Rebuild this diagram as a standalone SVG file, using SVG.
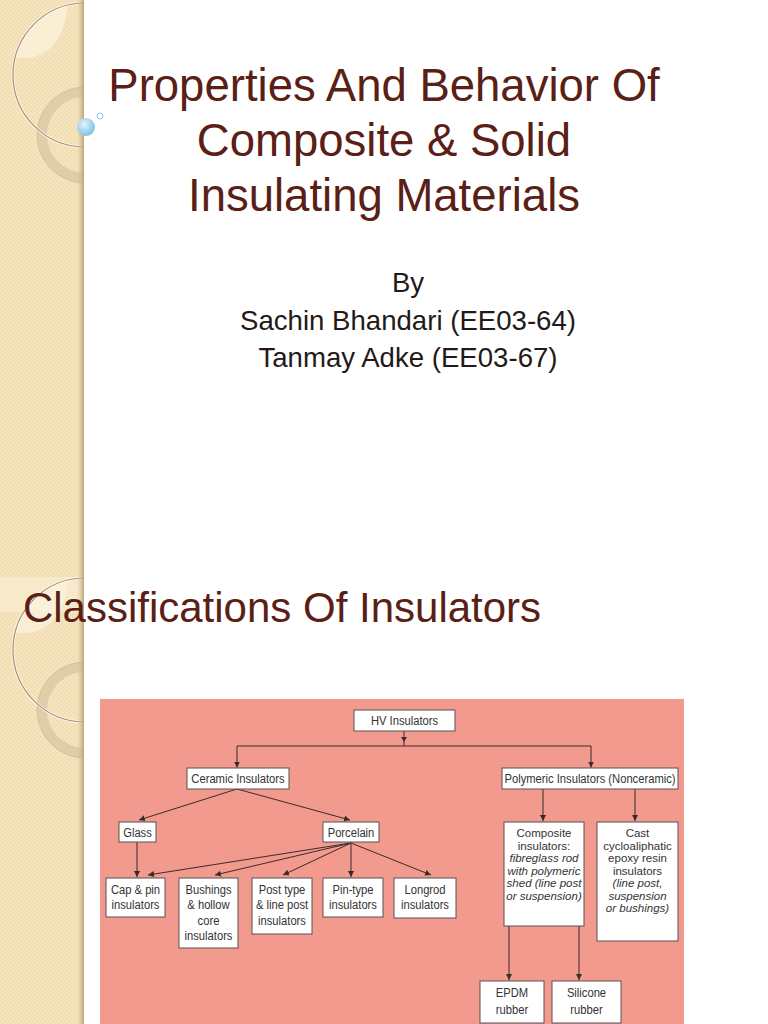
<svg xmlns="http://www.w3.org/2000/svg" width="768" height="1024" viewBox="0 0 768 1024">
<defs>
<pattern id="dots" width="4" height="4" patternUnits="userSpaceOnUse">
<rect width="4" height="4" fill="#f5e4bd"/>
<circle cx="1" cy="1" r="0.8" fill="#e9d3a3" opacity="0.7"/>
<circle cx="3" cy="3" r="0.8" fill="#e9d3a3" opacity="0.7"/>
</pattern>
<linearGradient id="edge" x1="0" y1="0" x2="1" y2="0">
<stop offset="0" stop-color="#d9c49a" stop-opacity="0"/>
<stop offset="1" stop-color="#bba47a" stop-opacity="1"/>
</linearGradient>
<radialGradient id="bubble" cx="0.4" cy="0.35" r="0.65">
<stop offset="0" stop-color="#e4f4fc"/>
<stop offset="1" stop-color="#7ec3e6"/>
</radialGradient>
<clipPath id="stripClip"><rect x="0" y="0" width="84" height="1024"/></clipPath>
<marker id="ah" viewBox="0 0 10 10" refX="10" refY="5" markerWidth="6" markerHeight="6" markerUnits="userSpaceOnUse" orient="auto">
<path d="M0,0 L10,5 L0,10 Z" fill="#3a2c2a"/>
</marker>
<style>
.title{font-family:"Liberation Sans",Arial,sans-serif;fill:#5a2016;text-anchor:middle}
.sub{font-family:"Liberation Sans",Arial,sans-serif;fill:#231a18;font-size:27.6px;text-anchor:middle}
.box{fill:#ffffff;stroke:#5a5050;stroke-width:1}
.lbl{font-family:"Liberation Sans",Arial,sans-serif;font-size:13.5px;fill:#333;text-anchor:middle}
.sm{font-family:"Liberation Sans",Arial,sans-serif;font-size:11.5px;fill:#333;text-anchor:middle}
.it{font-style:italic}
.con{fill:none;stroke:#3a2c2a;stroke-width:1;marker-end:url(#ah)}
.ln{fill:none;stroke:#3a2c2a;stroke-width:1}
</style>
</defs>

<rect x="0" y="0" width="768" height="1024" fill="#ffffff"/>
<g id="strip">
<rect x="0" y="0" width="84" height="1024" fill="url(#dots)"/>
<g clip-path="url(#stripClip)">
<path d="M15,58 Q62,62 68,5 A72,72 0 0,0 15,58 Z" fill="#fbf1db" opacity="0.8"/>
<circle cx="85" cy="135" r="43" fill="none" stroke="#dccaa6" stroke-width="10" opacity="0.85"/>
<circle cx="85" cy="135" r="48" fill="none" stroke="#c8b48e" stroke-width="0.8" opacity="0.7"/>
<circle cx="85" cy="75" r="72" fill="none" stroke="#ffffff" stroke-width="3" opacity="0.7"/>
<circle cx="85" cy="75" r="72" fill="none" stroke="#a8916c" stroke-width="1.2"/>
<rect x="0" y="577" width="84" height="35" fill="#fbf1db" opacity="0.5"/>
<path d="M15,633 Q62,637 68,580 A72,72 0 0,0 15,633 Z" fill="#fbf1db" opacity="0.8"/>
<circle cx="85" cy="710" r="43" fill="none" stroke="#dccaa6" stroke-width="10" opacity="0.85"/>
<circle cx="85" cy="710" r="48" fill="none" stroke="#c8b48e" stroke-width="0.8" opacity="0.7"/>
<circle cx="85" cy="650" r="72" fill="none" stroke="#ffffff" stroke-width="3" opacity="0.7"/>
<circle cx="85" cy="650" r="72" fill="none" stroke="#a8916c" stroke-width="1.2"/>
</g>
<rect x="77" y="0" width="7" height="1024" fill="url(#edge)"/>
</g>
<g id="bubbles">
<circle cx="86" cy="127" r="9" fill="url(#bubble)"/>
<circle cx="100" cy="116" r="3" fill="#ffffff" stroke="#8cc6e4" stroke-width="1"/>
</g>

<g id="title1">
<text class="title" x="384" y="101" font-size="45.5">Properties And Behavior Of</text>
<text class="title" x="384" y="156" font-size="45.5">Composite &amp; Solid</text>
<text class="title" x="384" y="211" font-size="45.5">Insulating Materials</text>
</g>
<g id="authors">
<text class="sub" x="408" y="292">By</text>
<text class="sub" x="408" y="330">Sachin Bhandari (EE03-64)</text>
<text class="sub" x="408" y="367">Tanmay Adke (EE03-67)</text>
</g>

<g id="title2">
<text class="title" x="282" y="622" font-size="42">Classifications Of Insulators</text>
</g>
<rect id="panel" x="100" y="699" width="584" height="325" fill="#f29a8e"/>

<g id="connectors">
<path class="ln" d="M404,731 V746"/>
<path d="M401,737 L407,737 L404,742 Z" fill="#3a2c2a"/>
<path class="con" d="M404,746 H237 V767.5"/>
<path class="con" d="M404,746 H591 V767.5"/>
<path class="con" d="M237,789 L139,820"/>
<path class="con" d="M237,789 L350,820"/>
<path class="con" d="M137,842 V877"/>
<path class="con" d="M351,843 L148,875"/>
<path class="con" d="M351,843 L215,875"/>
<path class="con" d="M351,843 L283,875"/>
<path class="con" d="M351,843 V877"/>
<path class="con" d="M351,843 L431,875"/>
<path class="con" d="M543,789 V821"/>
<path class="con" d="M635,789 V821"/>
<path class="con" d="M509,926 V980"/>
<path class="con" d="M579,926 V980"/>
</g>

<g id="n-hv"><rect class="box" x="354" y="710" width="101" height="21"/><text class="lbl" transform="matrix(.83 0 0 1 404.5 0)" y="725.5">HV Insulators</text></g>
<g id="n-ceramic"><rect class="box" x="187" y="768" width="102" height="21"/><text class="lbl" transform="matrix(.83 0 0 1 238 0)" y="783.5">Ceramic Insulators</text></g>
<g id="n-polymeric"><rect class="box" x="502" y="768" width="176" height="21"/><text class="lbl" transform="matrix(.83 0 0 1 590 0)" y="783.5">Polymeric Insulators (Nonceramic)</text></g>
<g id="n-glass"><rect class="box" x="119" y="822" width="37" height="20"/><text class="lbl" transform="matrix(.83 0 0 1 137.5 0)" y="837">Glass</text></g>
<g id="n-porcelain"><rect class="box" x="323" y="822" width="56" height="20"/><text class="lbl" transform="matrix(.83 0 0 1 351 0)" y="837">Porcelain</text></g>
<g id="n-cap"><rect class="box" x="106" y="878" width="59" height="39"/><text class="lbl" transform="matrix(.83 0 0 1 135.5 0)" y="894">Cap &amp; pin</text><text class="lbl" transform="matrix(.83 0 0 1 135.5 0)" y="909.5">insulators</text></g>
<g id="n-bushings"><rect class="box" x="179" y="878" width="59" height="70"/><text class="lbl" transform="matrix(.83 0 0 1 208.5 0)" y="894">Bushings</text><text class="lbl" transform="matrix(.83 0 0 1 208.5 0)" y="909.5">&amp; hollow</text><text class="lbl" transform="matrix(.83 0 0 1 208.5 0)" y="925">core</text><text class="lbl" transform="matrix(.83 0 0 1 208.5 0)" y="940.5">insulators</text></g>
<g id="n-post"><rect class="box" x="252" y="878" width="60" height="56"/><text class="lbl" transform="matrix(.83 0 0 1 282 0)" y="894">Post type</text><text class="lbl" transform="matrix(.83 0 0 1 282 0)" y="909.5">&amp; line post</text><text class="lbl" transform="matrix(.83 0 0 1 282 0)" y="925">insulators</text></g>
<g id="n-pin"><rect class="box" x="323" y="878" width="60" height="39"/><text class="lbl" transform="matrix(.83 0 0 1 353 0)" y="894">Pin-type</text><text class="lbl" transform="matrix(.83 0 0 1 353 0)" y="909.5">insulators</text></g>
<g id="n-longrod"><rect class="box" x="394" y="878" width="62" height="40"/><text class="lbl" transform="matrix(.83 0 0 1 425 0)" y="894">Longrod</text><text class="lbl" transform="matrix(.83 0 0 1 425 0)" y="909.5">insulators</text></g>
<g id="n-composite"><rect class="box" x="504" y="822" width="80" height="104"/>
<text class="sm" x="544" y="837">Composite</text>
<text class="sm" x="544" y="849.5">insulators:</text>
<text class="sm it" x="544" y="862">fibreglass rod</text>
<text class="sm it" x="544" y="874.5">with polymeric</text>
<text class="sm it" x="544" y="887">shed (line post</text>
<text class="sm it" x="544" y="899.5">or suspension)</text></g>
<g id="n-cast"><rect class="box" x="597" y="822" width="81" height="119"/>
<text class="sm" x="637.5" y="837">Cast</text>
<text class="sm" x="637.5" y="849.5">cycloaliphatic</text>
<text class="sm" x="637.5" y="862">epoxy resin</text>
<text class="sm" x="637.5" y="874.5">insulators</text>
<text class="sm it" x="637.5" y="887">(line post,</text>
<text class="sm it" x="637.5" y="899.5">suspension</text>
<text class="sm it" x="637.5" y="912">or bushings)</text></g>
<g id="n-epdm"><rect class="box" x="480" y="981" width="64" height="42"/><text class="lbl" transform="matrix(.83 0 0 1 512 0)" y="997">EPDM</text><text class="lbl" transform="matrix(.83 0 0 1 512 0)" y="1014">rubber</text></g>
<g id="n-silicone"><rect class="box" x="552" y="981" width="69" height="42"/><text class="lbl" transform="matrix(.83 0 0 1 586.5 0)" y="997">Silicone</text><text class="lbl" transform="matrix(.83 0 0 1 586.5 0)" y="1014">rubber</text></g>
</svg>
